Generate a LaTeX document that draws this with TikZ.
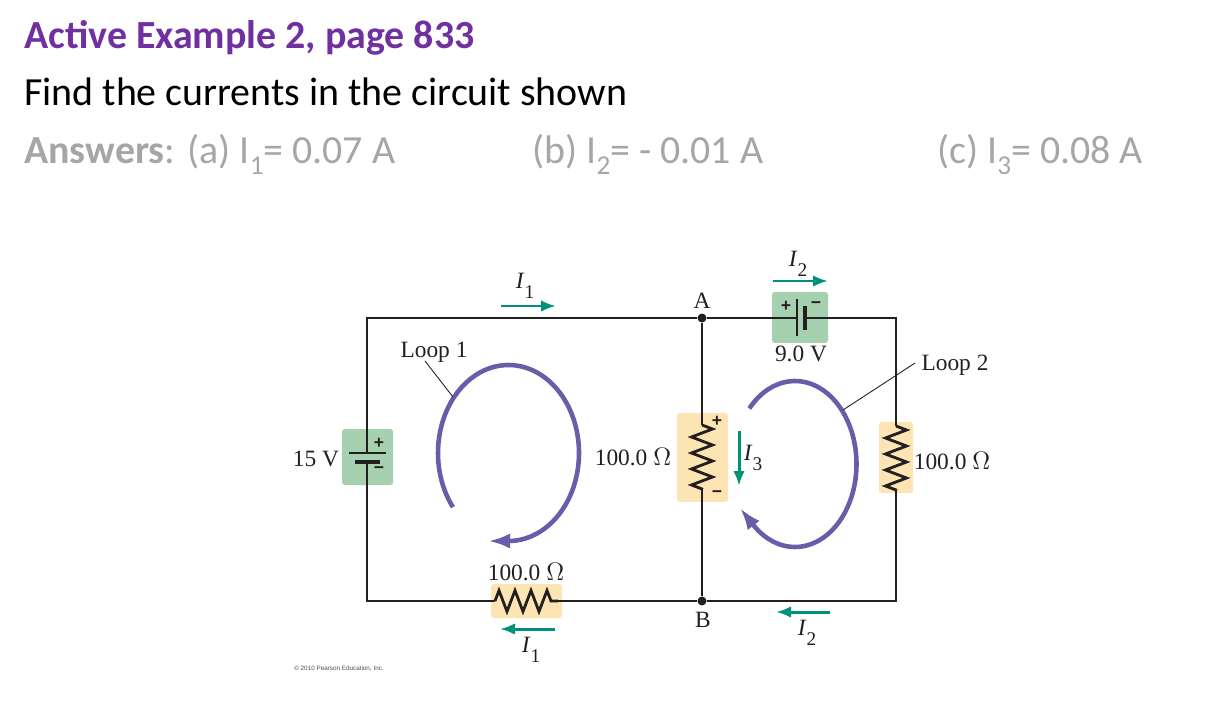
\documentclass[tikz,border=0pt]{standalone}
\usepackage{fontspec}
\setmainfont{Carlito}
\newfontfamily\figfont{Liberation Serif}
\newfontfamily\smallfont{Liberation Sans}
\usetikzlibrary{arrows.meta,decorations.pathmorphing}
\definecolor{titlepurple}{HTML}{7030A0}
\definecolor{answergray}{HTML}{A6A6A6}
\definecolor{batgreen}{HTML}{A6D1B1}
\definecolor{resyellow}{HTML}{FDE5B3}
\definecolor{curteal}{HTML}{00917C}
\definecolor{looppurple}{HTML}{6B5BA8}
\definecolor{wirecol}{HTML}{231F20}
\newcommand{\curlab}[1]{\textit{I}\raisebox{-0.4em}{\fontsize{11}{11}\selectfont #1}}
\newcommand{\anssub}[1]{\raisebox{-0.28em}{\fontsize{15.5}{16}\selectfont #1}}
\tikzset{
  heading/.style={anchor=base west,inner sep=0pt,font=\fontsize{22.7}{26}\selectfont},
  figlabel/.style={inner sep=0pt,text=wirecol,font=\figfont\fontsize{13.3}{15}\selectfont},
  signlabel/.style={inner sep=0pt,text=wirecol,font=\smallfont\bfseries\fontsize{10}{12}\selectfont},
  wire/.style={draw=wirecol,line width=1.35pt},
  plate/.style={draw=wirecol,line width=1.2pt},
  thickplate/.style={draw=wirecol,line width=2.6pt},
  zigzagres/.style={draw=wirecol,line width=1.6pt,decorate,
    decoration={zigzag,segment length=0.32cm,amplitude=0.21cm}},
  batbox/.style={fill=batgreen,rounded corners=1.5pt,inner sep=0pt},
  resbox/.style={fill=resyellow,rounded corners=1.5pt,inner sep=0pt},
  current/.style={draw=curteal,line width=1.7pt,-{Latex[length=0.3cm,width=0.23cm]}},
  loopline/.style={draw=looppurple,line width=2.6pt,-{Latex[length=0.44cm,width=0.3cm]}},
  leader/.style={draw=wirecol,line width=0.5pt},
  junction/.style={circle,fill=wirecol,inner sep=0pt,minimum size=0.18cm}
}
\begin{document}
\begin{tikzpicture}[x=0.02cm,y=-0.02cm]
  \useasboundingbox (0,0) rectangle (1220,703);

  % Heading
  \node[heading,text=titlepurple,font=\fontsize{22.7}{26}\selectfont\bfseries] (title) at (24,48) {Active Example 2, page 833};
  \node[heading] (task) at (24,105) {Find the currents in the circuit shown};
  \node[heading,text=answergray] (ansa) at (24,163) {\textbf{Answers}: (a) I\anssub{1}= 0.07 A};
  \node[heading,text=answergray] (ansb) at (532,163) {(b) I\anssub{2}= - 0.01 A};
  \node[heading,text=answergray] (ansc) at (937,163) {(c) I\anssub{3}= 0.08 A};

  % Colored boxes
  \node[batbox,minimum width=1.02cm,minimum height=1.12cm] (boxa) at (367.5,457) {};
  \node[batbox,minimum width=1.12cm,minimum height=1.02cm] (boxb) at (800,317.5) {};
  \node[resbox,minimum width=1.02cm,minimum height=1.78cm] (boxc) at (702.5,457.5) {};
  \node[resbox,minimum width=0.68cm,minimum height=1.42cm] (boxd) at (896,457.5) {};
  \node[resbox,minimum width=1.42cm,minimum height=0.68cm] (boxe) at (526.5,601) {};

  % Corners and junctions
  \coordinate (tl) at (367,318);
  \coordinate (tr) at (896,318);
  \coordinate (bl) at (367,601);
  \coordinate (br) at (896,601);
  \node[junction] (A) at (702,318) {};
  \node[junction] (B) at (702,601) {};

  % Battery plates
  \coordinate (bata1) at (349,453);
  \coordinate (bata2) at (386,453);
  \coordinate (bata3) at (355,462);
  \coordinate (bata4) at (380,462);
  \coordinate (batb1) at (797,299);
  \coordinate (batb2) at (797,336);
  \coordinate (batb3) at (805,306);
  \coordinate (batb4) at (805,330);
  \draw[plate] (bata1) -- (bata2);
  \draw[thickplate] (bata3) -- (bata4);
  \draw[plate] (batb1) -- (batb2);
  \draw[thickplate] (batb3) -- (batb4);

  % Resistor ends
  \coordinate (resc1) at (702,425);
  \coordinate (resc2) at (702,489);
  \coordinate (resd1) at (896,426);
  \coordinate (resd2) at (896,490);
  \coordinate (rese1) at (495,601);
  \coordinate (rese2) at (558,601);
  \draw[zigzagres] (resc1) -- (resc2);
  \draw[zigzagres] (resd1) -- (resd2);
  \draw[zigzagres] (rese1) -- (rese2);

  % Wires
  \coordinate (wa1) at (367,453);
  \coordinate (wa2) at (367,462);
  \coordinate (wb1) at (797,318);
  \coordinate (wb2) at (805,318);
  \draw[wire] (wa1) -- (tl) -- (A) -- (wb1);
  \draw[wire] (wb2) -- (tr) -- (resd1);
  \draw[wire] (resd2) -- (br) -- (B) -- (rese2);
  \draw[wire] (rese1) -- (bl) -- (wa2);
  \draw[wire] (A) -- (resc1);
  \draw[wire] (resc2) -- (B);

  % Loops
  \coordinate (tipa) at (488,541);
  \coordinate (tipb) at (740,508);
  \draw[loopline] plot[domain=142:450,samples=70,smooth] ({508.5+70.5*cos(\x)},{453+88*sin(\x)}) -- (tipa);
  \draw[loopline] plot[domain=222:493,samples=70,smooth] ({795+61.5*cos(\x)},{464+83*sin(\x)}) -- (tipb);

  % Leaders
  \node[figlabel] (loopa) at (434,352) {Loop 1};
  \node[figlabel] (loopb) at (955,365) {Loop 2};
  \coordinate (lea) at (425,361);
  \coordinate (leb) at (453,397);
  \coordinate (lec) at (915,363);
  \coordinate (led) at (843,410);
  \draw[leader] (lea) -- (leb);
  \draw[leader] (lec) -- (led);

  % Currents
  \coordinate (ia1) at (501,306);
  \coordinate (ia2) at (556,306);
  \coordinate (ib1) at (773,281);
  \coordinate (ib2) at (828,281);
  \coordinate (ic1) at (739,431);
  \coordinate (ic2) at (739,486);
  \coordinate (id1) at (555,629);
  \coordinate (id2) at (500,629);
  \coordinate (ie1) at (830,612);
  \coordinate (ie2) at (776,612);
  \draw[current] (ia1) -- (ia2);
  \draw[current] (ib1) -- (ib2);
  \draw[current] (ic1) -- (ic2);
  \draw[current] (id1) -- (id2);
  \draw[current] (ie1) -- (ie2);

  % Labels
  \node[figlabel] (la) at (702,301) {A};
  \node[figlabel] (lb) at (703,620) {B};
  \node[figlabel] (i1top) at (525,286) {\curlab{1}};
  \node[figlabel] (i2top) at (798,264) {\curlab{2}};
  \node[figlabel] (i3) at (753,458) {\curlab{3}};
  \node[figlabel] (i1bot) at (531,650) {\curlab{1}};
  \node[figlabel] (i2bot) at (807,633) {\curlab{2}};
  \node[figlabel] (va) at (316,459) {15 V};
  \node[figlabel] (vb) at (801,354) {9.0 V};
  \node[figlabel] (rc) at (633,457) {100.0 $\Omega$};
  \node[figlabel] (rd) at (952,461) {100.0 $\Omega$};
  \node[figlabel] (re) at (526,572) {100.0 $\Omega$};
  \node[signlabel] (pa) at (379,443) {+};
  \node[signlabel] (ma) at (379,470) {−};
  \node[signlabel] (pb) at (786,306) {+};
  \node[signlabel] (mb) at (816,305) {−};
  \node[signlabel] (pc) at (717,421) {+};
  \node[signlabel] (mc) at (717,494) {−};
  \node[inner sep=0pt,text=black!70,font=\smallfont\fontsize{3.6}{4}\selectfont] (copy) at (339,669) {\textcopyright{} 2010 Pearson Education, Inc.};
\end{tikzpicture}
\end{document}
